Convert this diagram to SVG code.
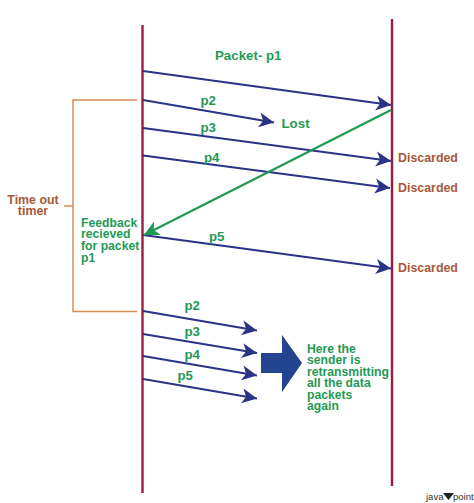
<svg xmlns="http://www.w3.org/2000/svg" width="474" height="503" viewBox="0 0 474 503">
<style>
text{font-family:"Liberation Sans",Arial,sans-serif;font-weight:700}
.g{fill:#1f9a55;font-size:13.300px}
.s{fill:#1f9a55;font-size:12.200px}
.b{fill:#a9583a;font-size:12.400px}
.v{stroke:#9c1c40;stroke-width:2.400;fill:none}
.a{stroke:#2b3387;stroke-width:2.200;fill:none}
.o{stroke:#d98a50;stroke-width:1.500;fill:none}
.l{fill:#333;font-size:9.500px;font-weight:400}
</style>
<defs>
<marker id="h" markerUnits="userSpaceOnUse" markerWidth="18" markerHeight="18" refX="15" refY="9" orient="auto"><path d="M0 1.500L15 9L0 16.500L4 9Z" fill="#2b3387"/></marker>
<marker id="gh" markerUnits="userSpaceOnUse" markerWidth="18" markerHeight="18" refX="15" refY="9" orient="auto"><path d="M0 1.500L15 9L0 16.500L4 9Z" fill="#1f9a55"/></marker>
</defs>
<rect width="474" height="503" fill="#fff"/>
<g id="lifeline-sender"><path class="v" d="M142.500 25V493"/></g>
<g id="lifeline-receiver"><path class="v" d="M392 19V486"/></g>
<g id="timer">
<path class="o" d="M137 100H73V311.500H137M64 206H73"/>
<text class="b" text-anchor="middle"><tspan x="33" y="203.500">Time out</tspan><tspan x="33" y="214.500">timer</tspan></text>
</g>
<g id="connectors">
<path class="a" marker-end="url(#h)" d="M143 71L391 105"/>
<path class="a" marker-end="url(#h)" d="M143 100L274 122.500"/>
<path class="a" marker-end="url(#h)" d="M143 128L391 161"/>
<path class="a" marker-end="url(#h)" d="M143 155.500L390 188"/>
<path class="a" marker-end="url(#h)" d="M143 235L391 268.500"/>
<path d="M391 110L144 235" stroke="#1f9a55" stroke-width="2.200" fill="none" marker-end="url(#gh)"/>
<path class="a" marker-end="url(#h)" d="M143 311L257 330.500"/>
<path class="a" marker-end="url(#h)" d="M143 334L257 353"/>
<path class="a" marker-end="url(#h)" d="M143 356L257 375.500"/>
<path class="a" marker-end="url(#h)" d="M143 379L257 398.500"/>
</g>
<g id="labels">
<text class="g" x="215" y="60">Packet- p1</text>
<text class="g" x="200.500" y="105">p2</text>
<text class="g" x="281.500" y="128">Lost</text>
<text class="g" x="200.500" y="132">p3</text>
<text class="g" x="204" y="162">p4</text>
<text class="g" x="209" y="241">p5</text>
<text class="g" x="184.500" y="310">p2</text>
<text class="g" x="184.500" y="336">p3</text>
<text class="g" x="184.500" y="359">p4</text>
<text class="g" x="177.500" y="380">p5</text>
<text class="b" x="398" y="162">Discarded</text>
<text class="b" x="398" y="192">Discarded</text>
<text class="b" x="398" y="272">Discarded</text>
</g>
<g id="feedback-note">
<text class="s"><tspan x="81" y="226.700">Feedback</tspan><tspan x="81" y="238">recieved</tspan><tspan x="81" y="249.500">for packet</tspan><tspan x="81" y="261.500">p1</tspan></text>
</g>
<g id="retransmit-arrow"><path d="M261 353H282V335L302 363L282 392V373H261Z" fill="#24448f"/></g>
<g id="retransmit-note">
<text class="s"><tspan x="307" y="353">Here the</tspan><tspan x="307" y="364.400">sender is</tspan><tspan x="307" y="375.800">retransmitting</tspan><tspan x="307" y="387.200">all the data</tspan><tspan x="307" y="398.600">packets</tspan><tspan x="307" y="410">again</tspan></text>
</g>
<g id="logo">
<text class="l" x="426" y="500">java</text>
<path d="M443 493H454L448.500 500Z" fill="#222"/>
<text class="l" x="453" y="500">point</text>
</g>
</svg>
